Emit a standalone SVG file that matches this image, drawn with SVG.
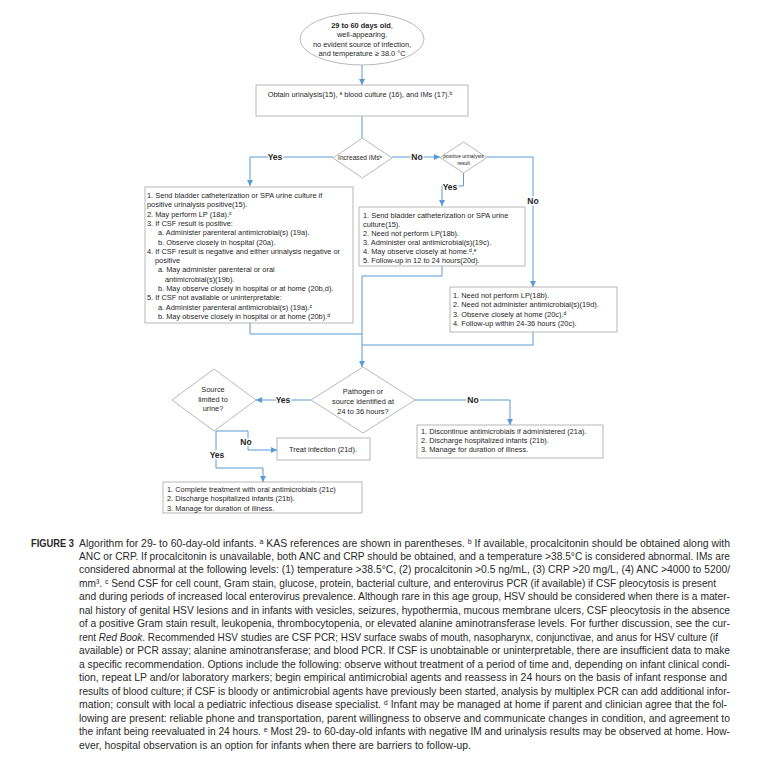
<svg xmlns="http://www.w3.org/2000/svg" width="768" height="772" viewBox="0 0 768 772">
<defs>
<marker id="ah" viewBox="0 0 10 10" refX="10" refY="5" markerWidth="6" markerHeight="6" orient="auto" markerUnits="userSpaceOnUse"><path d="M0,0 L10,5 L0,10 z" fill="#5b9bd5"/></marker>
<style>
.bx{fill:#fff;stroke:#a6a6a6;stroke-width:0.8}
.cn{fill:none;stroke:#5b9bd5;stroke-width:1}
.t{font-family:"Liberation Sans","DejaVu Sans",Arial,sans-serif;font-size:7.4px;fill:#262626}
.c{text-anchor:middle}
.lb{font-family:"Liberation Sans",Arial,sans-serif;font-size:8.5px;font-weight:bold;fill:#262626;text-anchor:middle;stroke:#fff;stroke-width:3;paint-order:stroke}
.cap{font-family:"Liberation Sans","DejaVu Sans",Arial,sans-serif;font-size:10.4px;fill:#2a2a2a}
</style>
</defs>
<rect width="768" height="772" fill="#fff"/>

<g id="connectors">
<path class="cn" d="M362,65 V85" marker-end="url(#ah)"/>
<path class="cn" d="M362,116 V138"/>
<path class="cn" d="M333,157 H250 V186" marker-end="url(#ah)"/>
<path class="cn" d="M392,157 H440" marker-end="url(#ah)"/>
<path class="cn" d="M487,157 H533 V287" marker-end="url(#ah)"/>
<path class="cn" d="M463.5,173 V186 H442 V206" marker-end="url(#ah)"/>
<path class="cn" d="M250,323 V334 H362"/>
<path class="cn" d="M442,266 V276 H362 V367" marker-end="url(#ah)"/>
<path class="cn" d="M533,332 V345 H362"/>
<path class="cn" d="M311,400 H256" marker-end="url(#ah)"/>
<path class="cn" d="M415,400 H510 V425" marker-end="url(#ah)"/>
<path class="cn" d="M216,431 H248 V450 H277" marker-end="url(#ah)"/>
<path class="cn" d="M216,431 V468 H263 V482" marker-end="url(#ah)"/>
<text class="lb" x="275" y="160">Yes</text>
<text class="lb" x="417" y="160">No</text>
<text class="lb" x="450" y="190">Yes</text>
<text class="lb" x="533" y="204">No</text>
<text class="lb" x="283" y="403">Yes</text>
<text class="lb" x="473" y="403">No</text>
<text class="lb" x="246" y="445">No</text>
<text class="lb" x="217" y="458">Yes</text>
</g>

<g id="start">
<ellipse class="bx" cx="362" cy="39" rx="62" ry="26"/>
<text class="t c" x="362" y="27.5" font-weight="bold">29 to 60 days old<tspan font-weight="normal">,</tspan></text>
<text class="t c" x="362" y="37">well-appearing,</text>
<text class="t c" x="362" y="46.5">no evident source of infection,</text>
<text class="t c" x="362" y="56">and temperature ≥ 38.0 °C</text>
</g>

<g id="obtain">
<rect class="bx" x="256" y="85" width="212" height="31"/>
<text class="t c" x="360" y="97">Obtain urinalysis(15), ᵃ blood culture (16), and IMs (17).ᵇ</text>
</g>

<g id="increasedIMs">
<path class="bx" d="M362.5,138 L392,158 L362.5,178 L333,158 Z"/>
<text class="t c" x="360" y="160" style="font-size:6.6px">Increased IMsᵇ</text>
</g>

<g id="posUA">
<path class="bx" d="M463.5,142 L487,157.5 L463.5,173 L440,157.5 Z"/>
<text class="t c" x="463.5" y="157.5" style="font-size:5.2px">positive urinalysis</text>
<text class="t c" x="463.5" y="164.5" style="font-size:5.2px">result</text>
</g>

<g id="leftBox">
<rect class="bx" x="145" y="187" width="208" height="136"/>
<text class="t" x="147" y="198">1. Send bladder catheterization or SPA urine culture if</text>
<text class="t" x="147" y="207.3">positive urinalysis positive(15).</text>
<text class="t" x="147" y="216.6">2. May perform LP (18a).ᶜ</text>
<text class="t" x="147" y="225.9">3. If CSF result is positive:</text>
<text class="t" x="158" y="235.2">a. Administer parenteral antimicrobial(s) (19a).</text>
<text class="t" x="158" y="244.5">b. Observe closely in hospital (20a).</text>
<text class="t" x="147" y="253.8">4. If CSF result is negative and either urinalysis negative or</text>
<text class="t" x="155" y="263.1">positive</text>
<text class="t" x="158" y="272.4">a. May administer parenteral or oral</text>
<text class="t" x="165" y="281.7">antimicrobial(s)(19b).</text>
<text class="t" x="158" y="291">b. May observe closely in hospital or at home (20b,d).</text>
<text class="t" x="147" y="300.3">5. If CSF not available or uninterpretable:</text>
<text class="t" x="158" y="309.6">a. Administer parenteral antimicrobial(s) (19a).ᶜ</text>
<text class="t" x="158" y="318.9">b. May observe closely in hospital or at home (20b).ᵈ</text>
</g>

<g id="midBox">
<rect class="bx" x="359" y="207" width="166" height="59"/>
<text class="t" x="363" y="217.5">1. Send bladder catheterization or SPA urine</text>
<text class="t" x="363" y="226.5">culture(15).</text>
<text class="t" x="363" y="235.5">2. Need not perform LP(18b).</text>
<text class="t" x="363" y="244.5">3. Administer oral antimicrobial(s)(19c).</text>
<text class="t" x="363" y="253.5">4. May observe closely at home.ᵈ,ᵉ</text>
<text class="t" x="363" y="262.5">5. Follow-up in 12 to 24 hours(20d).</text>
</g>

<g id="rightBox">
<rect class="bx" x="450" y="287" width="167" height="45"/>
<text class="t" x="453" y="297.5">1. Need not perform LP(18b).</text>
<text class="t" x="453" y="307">2. Need not administer antimicrobial(s)(19d).</text>
<text class="t" x="453" y="316.5">3. Observe closely at home (20c).ᵈ</text>
<text class="t" x="453" y="326">4. Follow-up within 24-36 hours (20c).</text>
</g>

<g id="pathogen">
<path class="bx" d="M363,367 L415,400 L363,433 L311,400 Z"/>
<text class="t c" x="363" y="394">Pathogen  or</text>
<text class="t c" x="363" y="404">source identified at</text>
<text class="t c" x="363" y="414">24 to 36 hours?</text>
</g>

<g id="source">
<path class="bx" d="M214,369 L256,400 L214,431 L172,400 Z"/>
<text class="t c" x="213" y="392">Source</text>
<text class="t c" x="213" y="401.5">limited to</text>
<text class="t c" x="213" y="411">urine?</text>
</g>

<g id="treat">
<rect class="bx" x="277" y="438" width="93" height="22"/>
<text class="t c" x="323" y="452">Treat infection (21d).</text>
</g>

<g id="discontinue">
<rect class="bx" x="417" y="425" width="186" height="33"/>
<text class="t" x="421" y="433.5">1. Discontinue antimicrobials if administered (21a).</text>
<text class="t" x="421" y="442.5">2. Discharge hospitalized infants (21b).</text>
<text class="t" x="421" y="452">3. Manage for duration of illness.</text>
</g>

<g id="complete">
<rect class="bx" x="163" y="482" width="199" height="31"/>
<text class="t" x="167" y="492">1. Complete treatment with oral antimicrobials  (21c)</text>
<text class="t" x="167" y="501">2. Discharge hospitalized infants (21b).</text>
<text class="t" x="167" y="510.5">3. Manage for duration of illness.</text>
</g>

<g id="caption">
<text class="cap" x="31" y="546.5" font-weight="bold" textLength="43" lengthAdjust="spacingAndGlyphs">FIGURE 3</text>
<text class="cap" x="79" y="546.5" textLength="651" lengthAdjust="spacingAndGlyphs">Algorithm for 29- to 60-day-old infants. ᵃ KAS references are shown in parentheses. ᵇ If available, procalcitonin should be obtained along with</text>
<text class="cap" x="79" y="560" textLength="651" lengthAdjust="spacingAndGlyphs">ANC or CRP. If procalcitonin is unavailable, both ANC and CRP should be obtained, and a temperature &gt;38.5°C is considered abnormal. IMs are</text>
<text class="cap" x="79" y="573.4" textLength="651" lengthAdjust="spacingAndGlyphs">considered abnormal at the following levels: (1) temperature &gt;38.5°C, (2) procalcitonin &gt;0.5 ng/mL, (3) CRP &gt;20 mg/L, (4) ANC &gt;4000 to 5200/</text>
<text class="cap" x="79" y="586.9" textLength="637" lengthAdjust="spacingAndGlyphs">mm³. ᶜ Send CSF for cell count, Gram stain, glucose, protein, bacterial culture, and enterovirus PCR (if available) if CSF pleocytosis is present</text>
<text class="cap" x="79" y="600.4" textLength="651" lengthAdjust="spacingAndGlyphs">and during periods of increased local enterovirus prevalence. Although rare in this age group, HSV should be considered when there is a mater-</text>
<text class="cap" x="79" y="613.8" textLength="651" lengthAdjust="spacingAndGlyphs">nal history of genital HSV lesions and in infants with vesicles, seizures, hypothermia, mucous membrane ulcers, CSF pleocytosis in the absence</text>
<text class="cap" x="79" y="627.3" textLength="651" lengthAdjust="spacingAndGlyphs">of a positive Gram stain result, leukopenia, thrombocytopenia, or elevated alanine aminotransferase levels. For further discussion, see the cur-</text>
<text class="cap" x="79" y="640.8" textLength="639" lengthAdjust="spacingAndGlyphs">rent <tspan font-style="italic">Red Book</tspan>. Recommended HSV studies are CSF PCR; HSV surface swabs of mouth, nasopharynx, conjunctivae, and anus for HSV culture (if</text>
<text class="cap" x="79" y="654.2" textLength="651" lengthAdjust="spacingAndGlyphs">available) or PCR assay; alanine aminotransferase; and blood PCR. If CSF is unobtainable or uninterpretable, there are insufficient data to make</text>
<text class="cap" x="79" y="667.7" textLength="651" lengthAdjust="spacingAndGlyphs">a specific recommendation. Options include the following: observe without treatment of a period of time and, depending on infant clinical condi-</text>
<text class="cap" x="79" y="681.2" textLength="648" lengthAdjust="spacingAndGlyphs">tion, repeat LP and/or laboratory markers; begin empirical antimicrobial agents and reassess in 24 hours on the basis of infant response and</text>
<text class="cap" x="79" y="694.6" textLength="651" lengthAdjust="spacingAndGlyphs">results of blood culture; if CSF is bloody or antimicrobial agents have previously been started, analysis by multiplex PCR can add additional infor-</text>
<text class="cap" x="79" y="708.1" textLength="648" lengthAdjust="spacingAndGlyphs">mation; consult with local a pediatric infectious disease specialist. ᵈ Infant may be managed at home if parent and clinician agree that the fol-</text>
<text class="cap" x="79" y="721.6" textLength="651" lengthAdjust="spacingAndGlyphs">lowing are present: reliable phone and transportation, parent willingness to observe and communicate changes in condition, and agreement to</text>
<text class="cap" x="79" y="735" textLength="651" lengthAdjust="spacingAndGlyphs">the infant being reevaluated in 24 hours. ᵉ Most 29- to 60-day-old infants with negative IM and urinalysis results may be observed at home. How-</text>
<text class="cap" x="79" y="748.5" textLength="392" lengthAdjust="spacingAndGlyphs">ever, hospital observation is an option for infants when there are barriers to follow-up.</text>
</g>
</svg>
